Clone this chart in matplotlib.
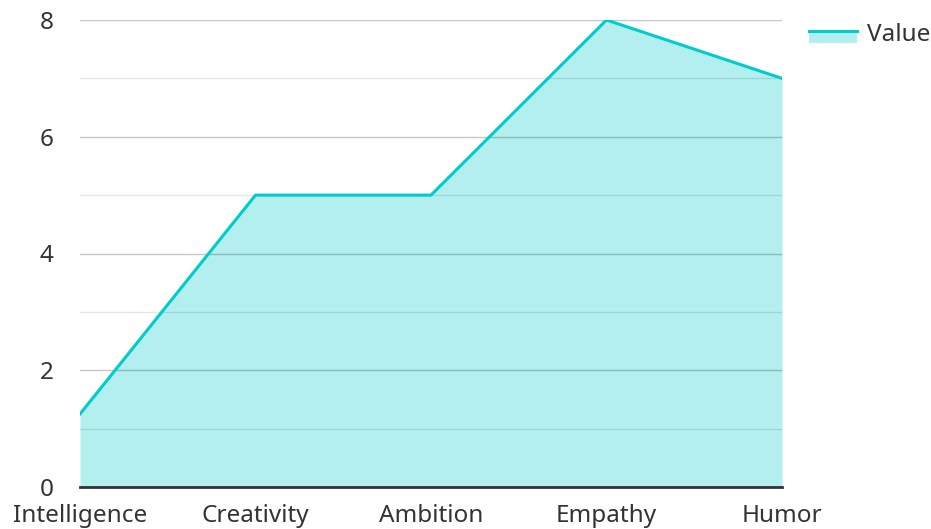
import matplotlib.pyplot as plt
from matplotlib.lines import Line2D
from matplotlib.patches import Rectangle
from matplotlib.legend_handler import HandlerBase

plt.rcParams['font.family'] = ['Noto Sans', 'DejaVu Sans']

categories = ["Intelligence", "Creativity", "Ambition", "Empathy", "Humor"]
values = [1.25, 5, 5, 8, 7]

line_color = "#00cccc"
fill_color = "#b2efee"


class AreaHandler(HandlerBase):
    def create_artists(self, legend, orig_handle, xdescent, ydescent,
                       width, height, fontsize, trans):
        top = -ydescent + height * 0.6
        rect = Rectangle((-xdescent, top - height * 0.75), width, height * 0.75,
                         facecolor=fill_color, edgecolor="none", transform=trans)
        ln = Line2D([-xdescent, -xdescent + width], [top, top],
                    color=line_color, lw=2.2, transform=trans)
        return [rect, ln]


fig = plt.figure(figsize=(9.31, 5.29), dpi=100)
ax = fig.add_axes([80 / 931, 42 / 529, 702 / 931, 467 / 529])

x = range(len(categories))
ax.fill_between(x, values, 0, color=fill_color, lw=0, zorder=1)
ax.plot(x, values, color=line_color, lw=2.2, zorder=3)

ax.set_xlim(0, len(categories) - 1)
ax.set_ylim(0, 8)
ax.set_yticks([0, 2, 4, 6, 8])
ax.set_yticks([1, 3, 5, 7], minor=True)
ax.set_axisbelow(False)
ax.grid(True, which="major", axis="y", color="black", alpha=0.22, lw=1, zorder=2)
ax.grid(True, which="minor", axis="y", color="black", alpha=0.1, lw=1, zorder=2)
ax.set_xticks(list(x))
ax.set_xticklabels(categories)
ax.tick_params(axis="both", which="both", length=0, labelsize=17.5, colors="#333333")
ax.tick_params(axis="y", pad=19)
ax.tick_params(axis="x", pad=12)
for s in ["top", "right", "left"]:
    ax.spines[s].set_visible(False)
ax.spines["bottom"].set_color("#333333")
ax.spines["bottom"].set_linewidth(2)
ax.spines["bottom"].set_zorder(4)

ax.legend([object()], ["Value"], handler_map={object: AreaHandler()},
          loc="upper left", bbox_to_anchor=(1.024, 1.015), frameon=False,
          fontsize=17.5, handlelength=2.0, handletextpad=0.4,
          labelcolor="#333333", borderaxespad=0)

fig.savefig("out.png", dpi=100)
